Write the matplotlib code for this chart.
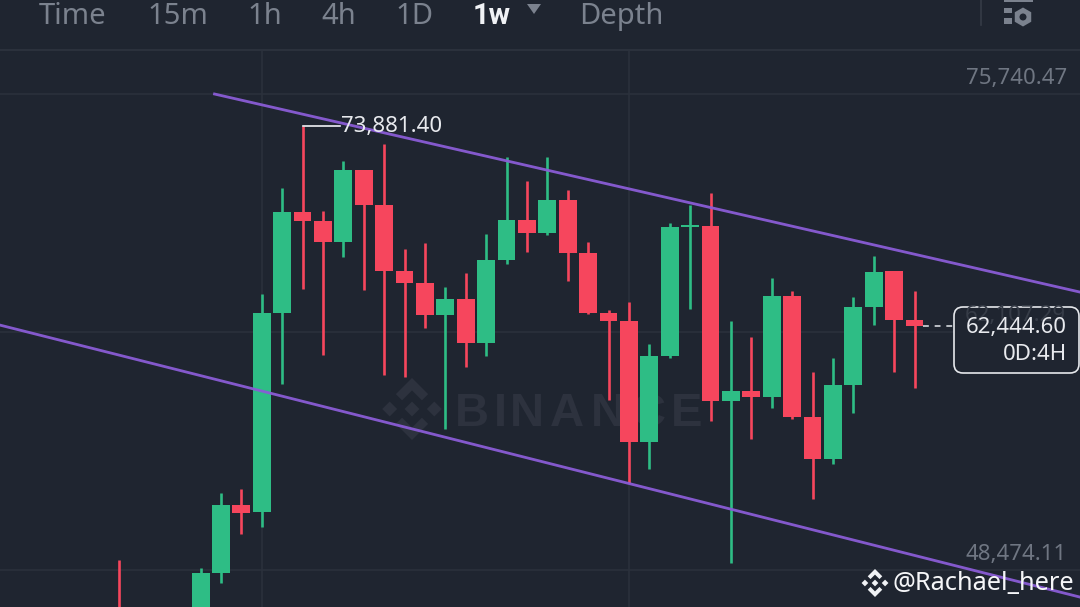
import matplotlib
matplotlib.use("Agg")
import matplotlib.pyplot as plt
from matplotlib.patches import Polygon, Rectangle, FancyBboxPatch, Circle, RegularPolygon

BG = "#1f2530"; GRID = "#2b313c"; GREEN = "#2ebd85"; RED = "#f6465d"; PURPLE = "#8a5cd6"
FAINT = "#6f7682"; NAV = "#7b828e"; WM = "#2d323e"

candle_x = [-4, 0, 1, 2, 3, 4, 5, 6, 7, 8, 9, 10, 11, 12, 13, 14, 15, 16, 17, 18, 19,
            20, 21, 22, 23, 24, 25, 26, 27, 28, 29, 30, 31, 32, 33, 34, 35]
opens = [45600, 45500, 48303, 52198, 51797, 63196, 68981, 68466, 67263, 71387, 69383,
         65602, 64915, 63081, 63998, 61478, 66232, 68523, 67779, 69669, 66633, 63196,
         62738, 55807, 60733, 68122, 68180, 58155, 58728, 58385, 64170, 57239, 54833,
         59072, 63540, 65602, 62795]
closes = [45000, 48303, 52198, 51740, 63196, 68981, 68466, 67263, 71387, 69383, 65602,
          64915, 63081, 63998, 61478, 66232, 68523, 67779, 69669, 66633, 63196, 62738,
          55807, 60733, 68122, 68237, 58155, 58728, 58385, 64170, 57239, 54833, 59072,
          63540, 65545, 62795, 62444.6]
highs = [49048, 48589, 52885, 53114, 64285, 70356, 73881.4, 69039, 71903, 71387, 72877,
         66862, 67206, 64686, 65487, 67722, 72132, 70757, 72132, 70242, 67263, 63368,
         63826, 61421, 68351, 69383, 70070, 62738, 61822, 65201, 64456, 59817, 60619,
         64112, 66461, 65602, 64456]
lows = [44500, 45000, 47730, 50537, 50938, 59130, 64571, 60791, 66404, 64514, 59645,
        59531, 62337, 56552, 60103, 60733, 66003, 66690, 67664, 65029, 63139, 58213,
        53458, 54260, 60619, 63425, 57010, 48876, 55979, 57754, 57124, 52542, 54546,
        57468, 62509, 59817, 58900]

grid_prices = [75740.47, 62107.29, 48474.11]
grid_labels = ["75,740.47", "62,107.29", "48,474.11"]
grid_times = [3, 21]
upper_x = [0.686, 43.09]; upper_y = [75740, 64400]
lower_x = [-9.853, 43.09]; lower_y = [62509, 46929]
high_value = 73881.40; high_label = "73,881.40"
last_price = 62444.60; last_label = "62,444.60"; countdown = "0D:4H"
nav_labels = ["Time", "15m", "1h", "4h", "1D", "1w", "Depth"]
nav_left = [39, 147, 247, 321, 395, 473, 579]
wm_letters = list("BINANCE")
wm_left = [455, 494, 510, 550, 591, 631, 671]

plt.rcParams["font.family"] = ["Noto Sans", "DejaVu Sans"]
fig = plt.figure(figsize=(10.8, 6.07), dpi=100, facecolor=BG)
ax = fig.add_axes([0, 0, 1, 1], facecolor=BG)
ax.set_xlim(-9.83, 43.113)
ax.set_ylim(46355, 81125)
ax.axis("off")
ov = fig.add_axes([0, 0, 1, 1], facecolor="none")
ov.set_xlim(0, 1080); ov.set_ylim(607, 0); ov.axis("off")
ov.set_zorder(0); ax.set_zorder(1); ax.patch.set_alpha(0)

# grid
for p in grid_prices:
    ax.axhline(p, color=GRID, lw=1.2, zorder=1)
ax.vlines(grid_times, 46355, 78261, color=GRID, lw=1.2, zorder=1)

# watermark
def diamond(a, cx, cy, r, color, z=1.5):
    a.add_patch(Polygon([(cx-r, cy), (cx, cy-r), (cx+r, cy), (cx, cy+r)], closed=True,
                        fc=color, ec="none", zorder=z))
def chevron(a, cx, cy, r, t, sign, color, z=1.5):
    pts = [(cx-r, cy), (cx, cy-sign*r), (cx+r, cy), (cx+r-t, cy+sign*t),
           (cx, cy-sign*(r-2*t)), (cx-r+t, cy+sign*t)]
    a.add_patch(Polygon(pts, closed=True, fc=color, ec="none", zorder=z))
def logo(a, cx, cy, s, color, z=1.5):
    diamond(a, cx, cy, 0.24*s, color, z)
    diamond(a, cx-0.72*s, cy, 0.24*s, color, z)
    diamond(a, cx+0.72*s, cy, 0.24*s, color, z)
    chevron(a, cx, cy-0.48*s, 0.52*s, 0.2*s, 1, color, z)
    chevron(a, cx, cy+0.48*s, 0.52*s, 0.2*s, -1, color, z)
logo(ov, 412, 409, 31, WM)
for letter, x in zip(wm_letters, wm_left):
    ov.text(x, 426, letter, color=WM, fontsize=34, fontweight="bold", va="baseline", ha="left",
            family="Liberation Sans", zorder=1.5)

# top bar
ov.axhline(50, color=GRID, lw=1.5, zorder=1)
for lab, x in zip(nav_labels, nav_left):
    active = lab == "1w"
    ov.text(x, 24, lab, color="#f0f2f5" if active else NAV, fontsize=21, ha="left",
            va="baseline", family="Roboto" if active else "Noto Sans",
            fontweight="bold" if active else "normal")
ov.add_patch(Polygon([(527, 4), (541, 4), (534, 14)], closed=True, fc=NAV, ec="none"))
ov.plot([981, 981], [0, 25], color="#353b46", lw=1.2)
ov.add_patch(Rectangle((1004, 8), 8, 5, fc=NAV, ec="none"))
ov.add_patch(Rectangle((1004, 18), 8, 6, fc=NAV, ec="none"))
ov.add_patch(Rectangle((1004, -1), 29, 3, fc=NAV, ec="none"))
ov.add_patch(RegularPolygon((1023, 17), 6, radius=9.5, fc=NAV, ec="none"))
ov.add_patch(Circle((1023, 17), 3.5, fc=BG, ec="none"))

# candles
for x, o, c, h, l in zip(candle_x, opens, closes, highs, lows):
    col = GREEN if c >= o else RED
    ax.vlines(x, l, h, color=col, lw=1.9, zorder=3)
    ax.bar(x, abs(c-o), bottom=min(o, c), width=0.88, color=col, linewidth=0, zorder=3)

# trend lines
ax.plot(upper_x, upper_y, color=PURPLE, lw=2.0, zorder=4, alpha=0.95)
ax.plot(lower_x, lower_y, color=PURPLE, lw=2.0, zorder=4, alpha=0.95)

# high marker
ax.plot([5, 6.85], [high_value, high_value], color="#f0f2f5", lw=1.2, zorder=5)
ax.text(6.87, high_value, high_label, color="#e8eaee", fontsize=16, va="center", ha="left", zorder=6)

# price axis labels
for p, lab in zip(grid_prices, grid_labels):
    if lab != "62,107.29":
        ax.text(1067/20.4-9.83, p+16*57.28, lab, color=FAINT, fontsize=16, ha="right", va="center", zorder=2)

# last price
ax.plot([35.4, 36.9], [last_price, last_price], color="#d5d8dd", lw=1.2, ls=(0, (3.5, 3.5)), zorder=5)
box = FancyBboxPatch((954, 307), 125, 66, boxstyle="round,pad=0,rounding_size=9",
                     fc=BG, ec="#e6e8ec", lw=1.2, zorder=6)
ax2 = fig.add_axes([0, 0, 1, 1], facecolor="none")
ax2.set_xlim(0, 1080); ax2.set_ylim(607, 0); ax2.axis("off"); ax2.set_zorder(2)
ax2.add_patch(box)
ax2.text(1066, 316, "62,107.29", color="#363c47", fontsize=16, ha="right", va="center", zorder=7)
ax2.text(1067, 327, last_label, color="#e8eaee", fontsize=16, ha="right", va="center", zorder=8)
ax2.text(1067, 355, countdown, color="#e8eaee", fontsize=16, ha="right", va="center", zorder=8)

# credit
logo(ax2, 875, 583, 14, "#f0f2f5", 8)
ax2.text(892, 583, "@Rachael_here", color="#f5f6f8", fontsize=18.3, ha="left", va="center", zorder=8)

fig.savefig("out.png", dpi=100, facecolor=BG)
